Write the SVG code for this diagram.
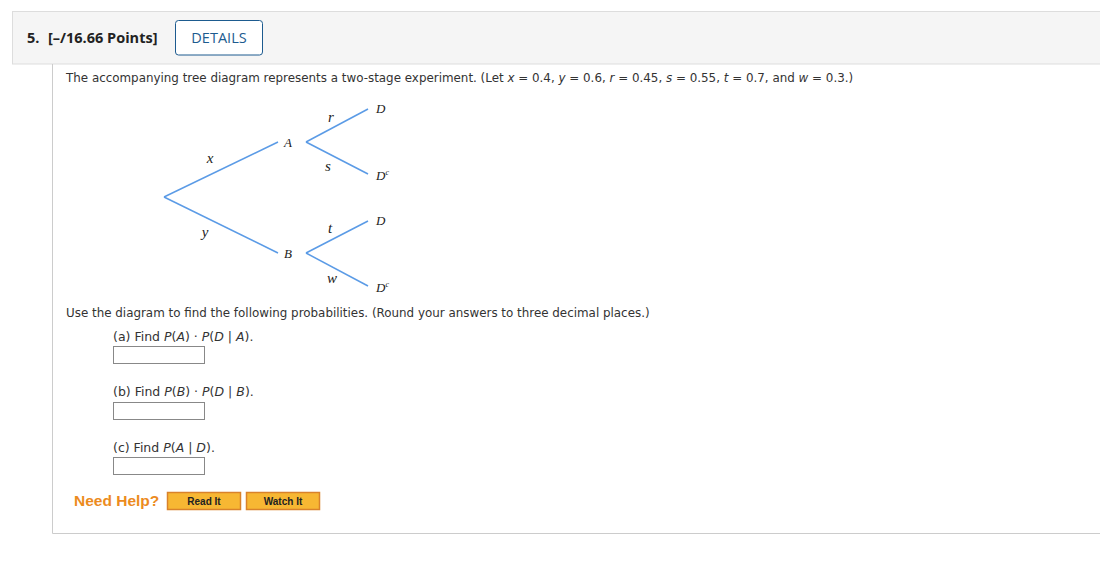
<svg xmlns="http://www.w3.org/2000/svg" width="1100" height="565" viewBox="0 0 1100 565">
<style>
.hd{font-family:"Open Sans","DejaVu Sans",sans-serif;font-size:14.5px;fill:#222}
.tx{font-family:"DejaVu Sans",Verdana,sans-serif;font-size:11.9px;fill:#333}
.q{font-size:12.5px}
.it{font-style:italic}
.lb{font-family:"Liberation Serif",serif;font-style:italic;font-size:15px;fill:#222}
.nd{font-family:"Liberation Serif",serif;font-style:italic;font-size:13px;fill:#222}
.br{stroke:#5b9be6;stroke-width:1.5;fill:none}
.box{fill:#fff;stroke:#888;stroke-width:1}
.btn{fill:#f7b733;stroke:#d9822b;stroke-width:1.5}
.bt{font-family:"Liberation Sans",Arial,sans-serif;font-weight:bold;font-size:10px;fill:#222;text-anchor:middle}
</style>
<rect width="1100" height="565" fill="#fff"/>
<g id="header">
<rect x="12.5" y="11.5" width="1100" height="52.5" fill="#f5f5f5" stroke="#ddd"/>
<text class="hd" x="27" y="43" font-weight="bold">5.</text>
<text class="hd" x="48" y="43" font-weight="bold">[–/16.66 Points]</text>
<rect x="175.5" y="20.5" width="87" height="34.5" rx="3" fill="#fff" stroke="#1d5b8f" stroke-width="1"/>
<text class="hd" x="219" y="43" text-anchor="middle" style="fill:#1d5b8f">DETAILS</text>
</g>
<g id="frame" stroke="#ccc" stroke-width="1">
<line x1="52.5" y1="64" x2="52.5" y2="533.5"/>
<line x1="52.5" y1="533.5" x2="1100" y2="533.5"/>
</g>
<text class="tx" x="66" y="82">The accompanying tree diagram represents a two-stage experiment. (Let <tspan class="it">x</tspan> = 0.4, <tspan class="it">y</tspan> = 0.6, <tspan class="it">r</tspan> = 0.45, <tspan class="it">s</tspan> = 0.55, <tspan class="it">t</tspan> = 0.7, and <tspan class="it">w</tspan> = 0.3.)</text>
<g id="connectors">
<line class="br" x1="164" y1="197" x2="278" y2="142"/>
<line class="br" x1="164" y1="197" x2="278" y2="253"/>
<line class="br" x1="306" y1="142" x2="368" y2="109"/>
<line class="br" x1="306" y1="142" x2="368" y2="174"/>
<line class="br" x1="306" y1="253" x2="368" y2="221"/>
<line class="br" x1="306" y1="253" x2="368" y2="286"/>
</g>
<g id="edge-labels">
<text class="lb" x="210" y="163" text-anchor="middle">x</text>
<text class="lb" x="205" y="237" text-anchor="middle">y</text>
<text class="lb" x="331" y="122" text-anchor="middle">r</text>
<text class="lb" x="328" y="171" text-anchor="middle">s</text>
<text class="lb" x="330" y="233" text-anchor="middle">t</text>
<text class="lb" x="332" y="283" text-anchor="middle">w</text>
</g>
<g id="node-A"><text class="nd" x="288" y="147" text-anchor="middle">A</text></g>
<g id="node-B"><text class="nd" x="288" y="258" text-anchor="middle">B</text></g>
<g id="node-D1"><text class="nd" x="376" y="113">D</text></g>
<g id="node-Dc1"><text class="nd" x="376" y="180">D<tspan font-size="8" dy="-5">c</tspan></text></g>
<g id="node-D2"><text class="nd" x="376" y="225">D</text></g>
<g id="node-Dc2"><text class="nd" x="376" y="292">D<tspan font-size="8" dy="-5">c</tspan></text></g>
<text class="tx" x="66" y="317">Use the diagram to find the following probabilities. (Round your answers to three decimal places.)</text>
<text class="tx q" x="113" y="341">(a) Find <tspan class="it">P</tspan>(<tspan class="it">A</tspan>) · <tspan class="it">P</tspan>(<tspan class="it">D</tspan> | <tspan class="it">A</tspan>).</text>
<rect class="box" x="113.5" y="346.5" width="91" height="17"/>
<text class="tx q" x="113" y="396">(b) Find <tspan class="it">P</tspan>(<tspan class="it">B</tspan>) · <tspan class="it">P</tspan>(<tspan class="it">D</tspan> | <tspan class="it">B</tspan>).</text>
<rect class="box" x="113.5" y="402.5" width="91" height="17"/>
<text class="tx q" x="113" y="452">(c) Find <tspan class="it">P</tspan>(<tspan class="it">A</tspan> | <tspan class="it">D</tspan>).</text>
<rect class="box" x="113.5" y="457.5" width="91" height="17"/>
<g id="help">
<text x="74" y="506" font-family="Liberation Sans,Arial,sans-serif" font-weight="bold" font-size="15.5" fill="#ec8b1e">Need Help?</text>
<rect class="btn" x="167.5" y="492.5" width="73" height="17"/>
<text class="bt" x="204" y="505">Read It</text>
<rect class="btn" x="246.5" y="492.5" width="73" height="17"/>
<text class="bt" x="283" y="505">Watch It</text>
</g>
</svg>
